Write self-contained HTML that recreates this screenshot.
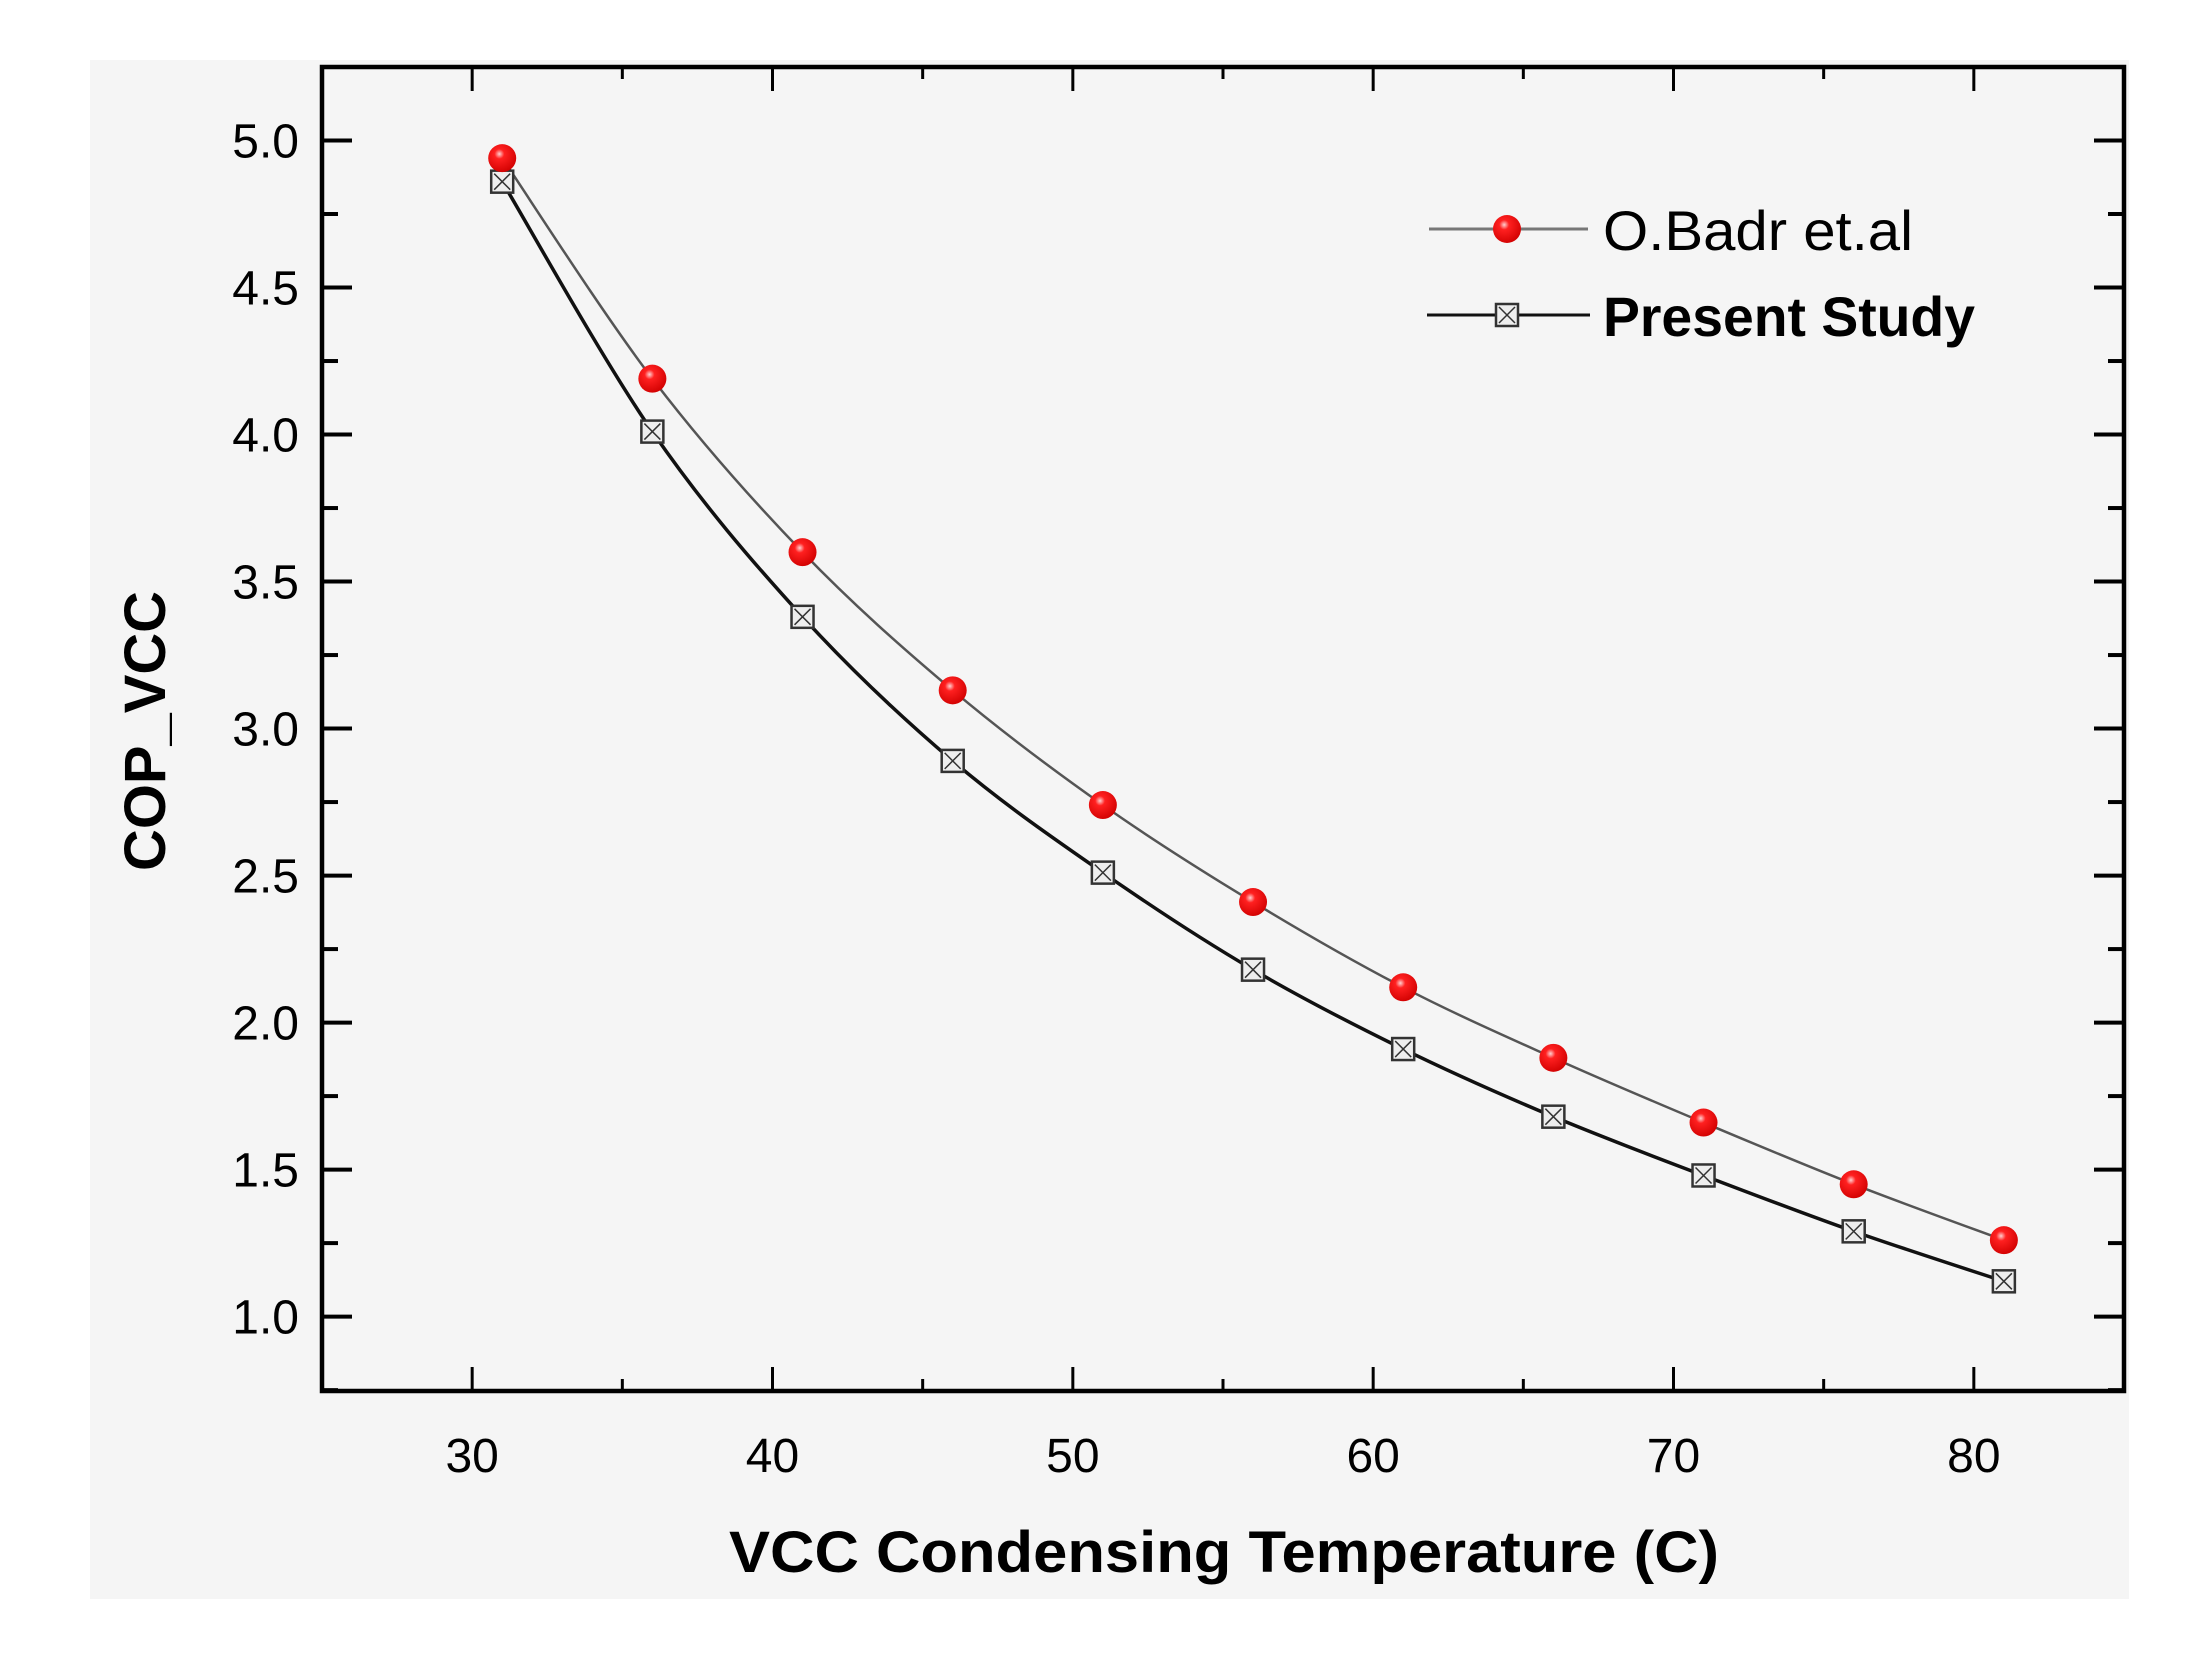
<!DOCTYPE html>
<html><head><meta charset="utf-8"><style>
html,body{margin:0;padding:0;background:#fff;}
svg{display:block;font-family:"Liberation Sans",sans-serif;}
</style></head><body>
<svg id="chart" width="2203" height="1660" viewBox="0 0 2203 1660">
<defs>
<radialGradient id="ball" cx="0.4" cy="0.35" r="0.7">
<stop offset="0" stop-color="#ffd0d0"/><stop offset="0.25" stop-color="#ff2020"/><stop offset="1" stop-color="#d00000"/>
</radialGradient>
</defs>
<rect x="90" y="60" width="2039" height="1539" fill="#f5f5f5"/>
<g id="grid"></g>
<g id="series"></g>
<rect x="322" y="67" width="1802" height="1324" fill="none" stroke="#000" stroke-width="4.5"/>
<text x="1224" y="1572" text-anchor="middle" font-size="58" font-weight="bold" textLength="990" lengthAdjust="spacingAndGlyphs">VCC Condensing Temperature (C)</text>
<text transform="translate(165,731) rotate(-90)" text-anchor="middle" font-size="58" font-weight="bold" textLength="280" lengthAdjust="spacingAndGlyphs">COP_VCC</text>
<g>
<g>
<line x1="1429" y1="229" x2="1588" y2="229" stroke="#777" stroke-width="3"/>
<circle cx="1507" cy="229" r="14" fill="url(#ball)"/>
<text x="1603" y="250" font-size="56" textLength="310" lengthAdjust="spacingAndGlyphs">O.Badr et.al</text>
</g>
<g>
<line x1="1427" y1="315" x2="1590" y2="315" stroke="#111" stroke-width="3"/>
<rect x="1496" y="304" width="22" height="22" fill="#eee" stroke="#333" stroke-width="2.5"/>
<path d="M1499 307 L1515 323 M1515 307 L1499 323" stroke="#333" stroke-width="1.5"/>
<text x="1603" y="336" font-size="56" font-weight="bold" textLength="372" lengthAdjust="spacingAndGlyphs">Present Study</text>
</g>
</g>
</svg>
<script>
const xCategories = [31,36,41,46,51,56,61,66,71,76,81];
const badrValues = [4.94,4.19,3.60,3.13,2.74,2.41,2.12,1.88,1.66,1.45,1.26];
const presentValues = [4.86,4.01,3.38,2.89,2.51,2.18,1.91,1.68,1.48,1.29,1.12];
const xTickLabels = [30,40,50,60,70,80];
const xMinorTicks = [35,45,55,65,75,85];
const yTickLabels = ["1.0","1.5","2.0","2.5","3.0","3.5","4.0","4.5","5.0"];
const yMinorTicks = [0.75,1.25,1.75,2.25,2.75,3.25,3.75,4.25,4.75,5.25];

const L=322,R=2124,T=67,B=1391;
const X0=25,X1=85,Y0=0.747,Y1=5.25;
function sx(v){return L+(v-X0)/(X1-X0)*(R-L);}
function sy(v){return B-(v-Y0)/(Y1-Y0)*(B-T);}
const NS="http://www.w3.org/2000/svg";
const grid=document.getElementById('grid'), series=document.getElementById('series');
function mk(tag,attrs,parent){const e=document.createElementNS(NS,tag);for(const k in attrs)e.setAttribute(k,attrs[k]);parent.appendChild(e);return e;}

xTickLabels.forEach(v=>{
  const x=sx(v);
  const t1=mk('line',{x1:x,y1:B,x2:x,y2:B-24,stroke:'#000','stroke-width':3},grid);
  
  
  const t2=mk('line',{x1:x,y1:T,x2:x,y2:T+24,stroke:'#000','stroke-width':3},grid);
  
  
  const tx=mk('text',{x:x,y:1472,'text-anchor':'middle','font-size':48},grid);
  tx.textContent=v;
  
  
});
xMinorTicks.forEach(v=>{
  const x=sx(v); if(x>R-2)return;
  const t=mk('line',{x1:x,y1:B,x2:x,y2:B-12,stroke:'#000','stroke-width':3},grid);
  
  
  const t2=mk('line',{x1:x,y1:T,x2:x,y2:T+12,stroke:'#000','stroke-width':3},grid);
  
  
});
yTickLabels.forEach(s=>{
  const v=parseFloat(s), y=sy(v);
  const t=mk('line',{x1:L,y1:y,x2:L+30,y2:y,stroke:'#000','stroke-width':4},grid);
  
  
  const t2=mk('line',{x1:R,y1:y,x2:R-30,y2:y,stroke:'#000','stroke-width':4},grid);
  
  
  const tx=mk('text',{x:299,y:y+17,'text-anchor':'end','font-size':48},grid);
  tx.textContent=s;
  
  
});
yMinorTicks.forEach(v=>{
  const y=sy(v);
  const t=mk('line',{x1:L,y1:y,x2:L+16,y2:y,stroke:'#000','stroke-width':4},grid);
  
  
  const t2=mk('line',{x1:R,y1:y,x2:R-16,y2:y,stroke:'#000','stroke-width':4},grid);
  
  
});
function spline(vals){
  const p=xCategories.map((c,i)=>[sx(c),sy(vals[i])]);
  let d='M'+p[0][0]+' '+p[0][1];
  for(let i=0;i<p.length-1;i++){
    const p0=p[i-1]||p[i],p1=p[i],p2=p[i+1],p3=p[i+2]||p[i+1];
    const c1=[p1[0]+(p2[0]-p0[0])/6,p1[1]+(p2[1]-p0[1])/6];
    const c2=[p2[0]-(p3[0]-p1[0])/6,p2[1]-(p3[1]-p1[1])/6];
    d+=' C'+c1[0]+' '+c1[1]+' '+c2[0]+' '+c2[1]+' '+p2[0]+' '+p2[1];
  }
  return d;
}
const lb=mk('path',{d:spline(badrValues),fill:'none',stroke:'#555','stroke-width':2.5},series);


const lp=mk('path',{d:spline(presentValues),fill:'none',stroke:'#111','stroke-width':3.5},series);


xCategories.forEach((c,i)=>{
  const x=sx(c),y=sy(presentValues[i]);
  const g=mk('g',{},series);
  
  
  mk('rect',{x:x-11,y:y-11,width:22,height:22,fill:'#eee',stroke:'#333','stroke-width':2.5},g);
  mk('path',{d:`M${x-8} ${y-8} L${x+8} ${y+8} M${x+8} ${y-8} L${x-8} ${y+8}`,stroke:'#333','stroke-width':1.5},g);
});
xCategories.forEach((c,i)=>{
  const ci=mk('circle',{cx:sx(c),cy:sy(badrValues[i]),r:14,fill:'url(#ball)'},series);
  
  
});
</script>
</body></html>
